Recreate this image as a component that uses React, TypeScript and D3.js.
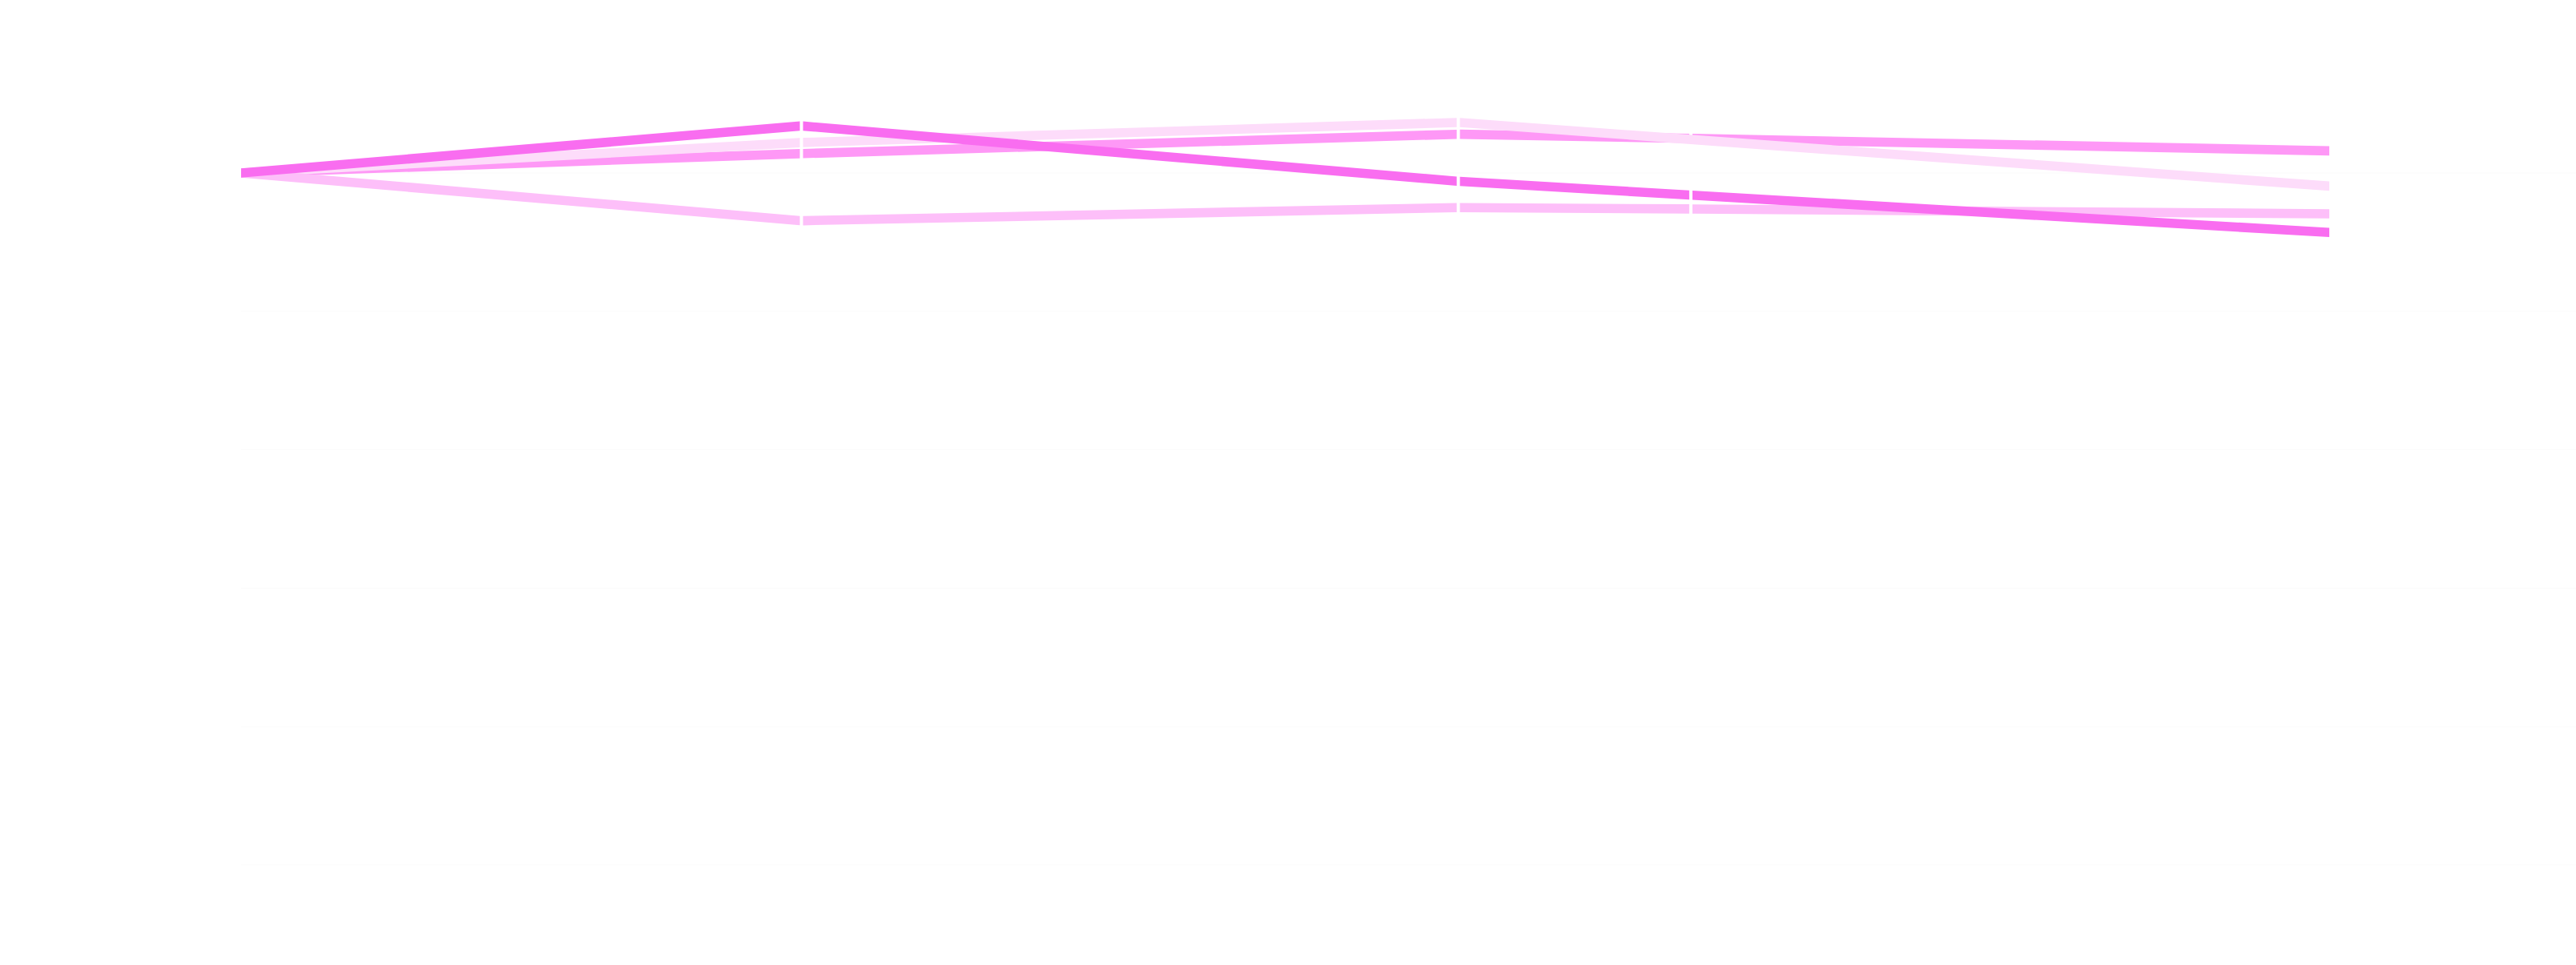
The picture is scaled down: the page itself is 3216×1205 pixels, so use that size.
import React from 'react';
import * as d3 from 'd3';

// dates of the observations (x axis)
const dates = ['2014-01-01', '2016-06-01', '2019-04-01', '2020-04-01', '2023-01-01'];

// index values, all series start at 100 (null = no observation)
const seriesNames = ['Series B', 'Series D', 'Series C', 'Series A'];
const seriesB: (number | null)[] = [100, 102.8, 105.6, 105.0, 103.2];
const seriesD: (number | null)[] = [100, 104.4, 107.3, null, 98.1];
const seriesC: (number | null)[] = [100, 93.1, 95.0, 94.8, 94.1];
const seriesA: (number | null)[] = [100, 106.8, 98.8, 96.8, 91.4];
const seriesColors = ['#fe98f6', '#fddcfa', '#fdbff9', '#f96df0'];

const gridTicks = [0, 20, 40, 60, 80, 100];

const W = 3216;
const H = 1205;
const margin = { top: 216, right: 308, bottom: 125, left: 301 };

interface Pt {
  date: Date;
  value: number;
}

const App: React.FC = () => {
  const parse = d3.timeParse('%Y-%m-%d');
  const x = d3.scaleTime()
    .domain([parse(dates[0]) as Date, parse(dates[dates.length - 1]) as Date])
    .range([margin.left, W - margin.right]);
  const y = d3.scaleLinear()
    .domain([0, 100])
    .range([H - margin.bottom, margin.top]);

  const all = [seriesB, seriesD, seriesC, seriesA];
  const half = 5.8;
  const gap = 2;

  const segments = all.map((vals, si) => {
    const pts: Pt[] = [];
    vals.forEach((v, i) => {
      if (v !== null) pts.push({ date: parse(dates[i]) as Date, value: v });
    });
    const segs: string[] = [];
    for (let i = 0; i < pts.length - 1; i++) {
      const a = pts[i];
      const b = pts[i + 1];
      const xa = x(a.date) + (i > 0 ? gap : 0);
      const xb = x(b.date) - (i < pts.length - 2 ? gap : 0);
      const slope = (y(b.value) - y(a.value)) / (x(b.date) - x(a.date));
      const ya = y(a.value) + slope * (xa - x(a.date));
      const yb = y(a.value) + slope * (xb - x(a.date));
      const area = d3.area<[number, number]>()
        .x(d => d[0])
        .y0(d => d[1] - half)
        .y1(d => d[1] + half);
      segs.push(area([[xa, ya], [xb, yb]]) || '');
    }
    return { name: seriesNames[si], color: seriesColors[si], segs };
  });

  return (
    <>
      <style>{'body{margin:0}'}</style>
      <svg width={W} height={H} style={{ display: 'block', background: '#ffffff' }}>
        <g>
          {gridTicks.map(t => (
            <line
              key={t}
              x1={margin.left}
              x2={W}
              y1={y(t)}
              y2={y(t)}
              stroke="#fbfbfb"
              strokeWidth={1}
            />
          ))}
        </g>
        {segments.map(s => (
          <g key={s.name}>
            {s.segs.map((d, i) => (
              <path key={i} d={d} fill={s.color} />
            ))}
          </g>
        ))}
      </svg>
    </>
  );
};

export default App;
